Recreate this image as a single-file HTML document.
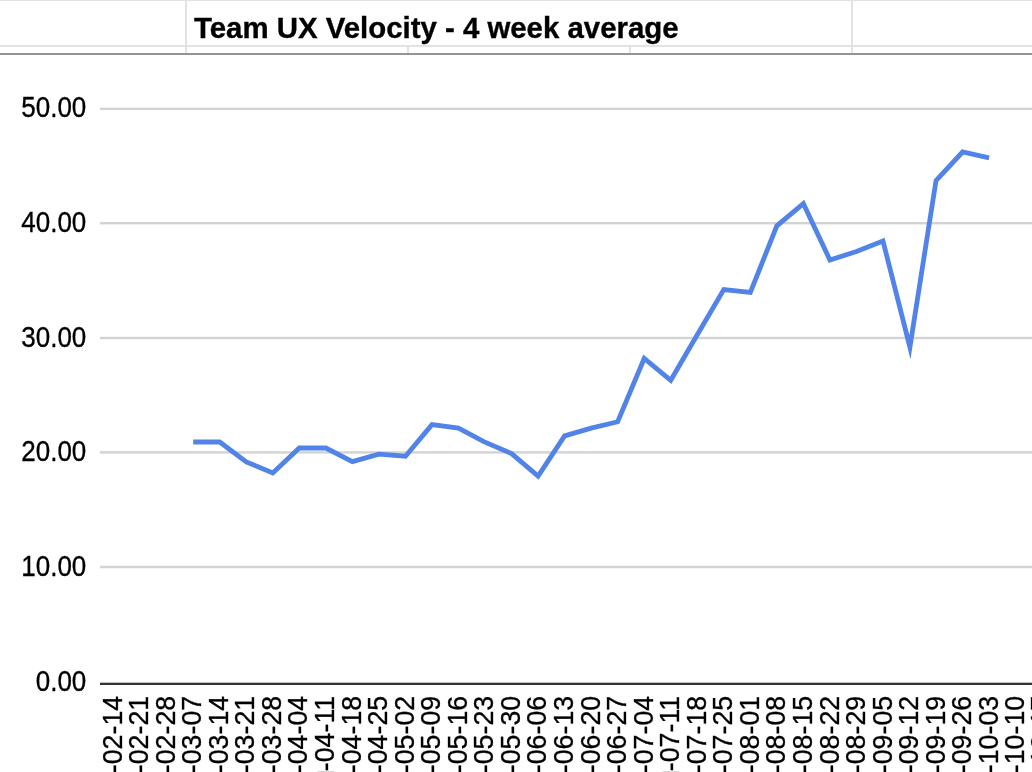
<!DOCTYPE html>
<html><head><meta charset="utf-8"><style>
html,body{margin:0;padding:0;background:#fff;width:1032px;height:772px;overflow:hidden}
svg{position:absolute;left:0;top:0;display:block;font-family:"Liberation Sans",sans-serif}
.t{will-change:transform}
</style></head><body>
<svg width="1032" height="772" viewBox="0 0 1032 772">
<rect x="0" y="0" width="1032" height="772" fill="#fff"/>
<rect x="0" y="0" width="1032" height="1" fill="#e2e2e2"/>
<rect x="0" y="45" width="1032" height="2" fill="#e2e2e2"/>
<rect x="185" y="0" width="2" height="54" fill="#e2e2e2"/>
<rect x="851" y="0" width="2" height="54" fill="#e2e2e2"/>
<rect x="407" y="46" width="2" height="8" fill="#e2e2e2"/>
<rect x="629" y="46" width="2" height="8" fill="#e2e2e2"/>
<rect x="0" y="53" width="1032" height="2" fill="#949494"/>
<rect x="100" y="107.66" width="932" height="2.4" fill="#d3d3d3"/><rect x="100" y="222.00" width="932" height="2.4" fill="#d3d3d3"/><rect x="100" y="336.80" width="932" height="2.4" fill="#d3d3d3"/><rect x="100" y="451.20" width="932" height="2.4" fill="#d3d3d3"/><rect x="100" y="565.80" width="932" height="2.4" fill="#d3d3d3"/>
<rect x="100" y="682.7" width="932" height="2.3" fill="#333"/>
<polyline points="193.20,442.00 219.73,442.00 246.26,461.90 272.79,472.90 299.32,448.00 325.85,448.00 352.38,461.60 378.91,454.10 405.44,456.20 431.97,424.60 458.50,428.10 483.83,441.60 511.56,453.60 538.09,476.10 564.62,435.90 591.15,428.10 617.68,421.80 644.21,358.50 670.74,380.30 697.27,334.70 723.80,289.50 750.33,292.50 776.86,225.80 803.39,203.70 829.92,260.00 856.45,251.50 882.98,241.00 909.91,347.20 936.04,180.50 962.57,152.00 989.10,157.90" fill="none" stroke="#5183e8" stroke-width="4.8" stroke-linejoin="miter" stroke-miterlimit="10" stroke-linecap="butt"/>
</svg>
<svg class="t" width="1032" height="772" viewBox="0 0 1032 772">
<text transform="translate(194,37.9) scale(1,1.03)" font-size="29.4" font-weight="bold" fill="#000" stroke="#000" stroke-width="0.35">Team UX Velocity - 4 week average</text>
<g font-size="26" fill="#000" stroke="#000" stroke-width="0.3"><text transform="translate(86.3,117.23) scale(1,1.11)" text-anchor="end">50.00</text><text transform="translate(86.3,231.98) scale(1,1.11)" text-anchor="end">40.00</text><text transform="translate(86.3,346.73) scale(1,1.11)" text-anchor="end">30.00</text><text transform="translate(86.3,461.48) scale(1,1.11)" text-anchor="end">20.00</text><text transform="translate(86.3,576.23) scale(1,1.11)" text-anchor="end">10.00</text><text transform="translate(86.3,690.98) scale(1,1.11)" text-anchor="end">0.00</text></g>
<g font-size="26" fill="#000" stroke="#000" stroke-width="0.3"><text transform="translate(111.83,695.8) rotate(-90) scale(1.03,1.07)" text-anchor="end" dy="0.35em">2021-02-14</text><text transform="translate(138.39,695.8) rotate(-90) scale(1.03,1.07)" text-anchor="end" dy="0.35em">2021-02-21</text><text transform="translate(164.94,695.8) rotate(-90) scale(1.03,1.07)" text-anchor="end" dy="0.35em">2021-02-28</text><text transform="translate(191.50,695.8) rotate(-90) scale(1.03,1.07)" text-anchor="end" dy="0.35em">2021-03-07</text><text transform="translate(218.06,695.8) rotate(-90) scale(1.03,1.07)" text-anchor="end" dy="0.35em">2021-03-14</text><text transform="translate(244.61,695.8) rotate(-90) scale(1.03,1.07)" text-anchor="end" dy="0.35em">2021-03-21</text><text transform="translate(271.17,695.8) rotate(-90) scale(1.03,1.07)" text-anchor="end" dy="0.35em">2021-03-28</text><text transform="translate(297.72,695.8) rotate(-90) scale(1.03,1.07)" text-anchor="end" dy="0.35em">2021-04-04</text><text transform="translate(324.28,695.8) rotate(-90) scale(1.03,1.07)" text-anchor="end" dy="0.35em">2021-04-11</text><text transform="translate(350.84,695.8) rotate(-90) scale(1.03,1.07)" text-anchor="end" dy="0.35em">2021-04-18</text><text transform="translate(377.39,695.8) rotate(-90) scale(1.03,1.07)" text-anchor="end" dy="0.35em">2021-04-25</text><text transform="translate(403.95,695.8) rotate(-90) scale(1.03,1.07)" text-anchor="end" dy="0.35em">2021-05-02</text><text transform="translate(430.50,695.8) rotate(-90) scale(1.03,1.07)" text-anchor="end" dy="0.35em">2021-05-09</text><text transform="translate(457.06,695.8) rotate(-90) scale(1.03,1.07)" text-anchor="end" dy="0.35em">2021-05-16</text><text transform="translate(483.62,695.8) rotate(-90) scale(1.03,1.07)" text-anchor="end" dy="0.35em">2021-05-23</text><text transform="translate(510.17,695.8) rotate(-90) scale(1.03,1.07)" text-anchor="end" dy="0.35em">2021-05-30</text><text transform="translate(536.73,695.8) rotate(-90) scale(1.03,1.07)" text-anchor="end" dy="0.35em">2021-06-06</text><text transform="translate(563.28,695.8) rotate(-90) scale(1.03,1.07)" text-anchor="end" dy="0.35em">2021-06-13</text><text transform="translate(589.84,695.8) rotate(-90) scale(1.03,1.07)" text-anchor="end" dy="0.35em">2021-06-20</text><text transform="translate(616.40,695.8) rotate(-90) scale(1.03,1.07)" text-anchor="end" dy="0.35em">2021-06-27</text><text transform="translate(642.95,695.8) rotate(-90) scale(1.03,1.07)" text-anchor="end" dy="0.35em">2021-07-04</text><text transform="translate(669.51,695.8) rotate(-90) scale(1.03,1.07)" text-anchor="end" dy="0.35em">2021-07-11</text><text transform="translate(696.06,695.8) rotate(-90) scale(1.03,1.07)" text-anchor="end" dy="0.35em">2021-07-18</text><text transform="translate(722.62,695.8) rotate(-90) scale(1.03,1.07)" text-anchor="end" dy="0.35em">2021-07-25</text><text transform="translate(749.18,695.8) rotate(-90) scale(1.03,1.07)" text-anchor="end" dy="0.35em">2021-08-01</text><text transform="translate(775.73,695.8) rotate(-90) scale(1.03,1.07)" text-anchor="end" dy="0.35em">2021-08-08</text><text transform="translate(802.29,695.8) rotate(-90) scale(1.03,1.07)" text-anchor="end" dy="0.35em">2021-08-15</text><text transform="translate(828.84,695.8) rotate(-90) scale(1.03,1.07)" text-anchor="end" dy="0.35em">2021-08-22</text><text transform="translate(855.40,695.8) rotate(-90) scale(1.03,1.07)" text-anchor="end" dy="0.35em">2021-08-29</text><text transform="translate(881.96,695.8) rotate(-90) scale(1.03,1.07)" text-anchor="end" dy="0.35em">2021-09-05</text><text transform="translate(908.51,695.8) rotate(-90) scale(1.03,1.07)" text-anchor="end" dy="0.35em">2021-09-12</text><text transform="translate(935.07,695.8) rotate(-90) scale(1.03,1.07)" text-anchor="end" dy="0.35em">2021-09-19</text><text transform="translate(961.62,695.8) rotate(-90) scale(1.03,1.07)" text-anchor="end" dy="0.35em">2021-09-26</text><text transform="translate(988.18,695.8) rotate(-90) scale(1.03,1.07)" text-anchor="end" dy="0.35em">2021-10-03</text><text transform="translate(1014.74,695.8) rotate(-90) scale(1.03,1.07)" text-anchor="end" dy="0.35em">2021-10-10</text><text transform="translate(1040.29,695.8) rotate(-90) scale(1.03,1.07)" text-anchor="end" dy="0.35em">2021-10-17</text><text transform="translate(1067.85,695.8) rotate(-90) scale(1.03,1.07)" text-anchor="end" dy="0.35em">2021-10-24</text></g>
<rect x="317.3" y="771" width="16.5" height="1" fill="#d8d8d8"/>
<rect x="662.5" y="771" width="16.5" height="1" fill="#d8d8d8"/>
</svg>
</body></html>
